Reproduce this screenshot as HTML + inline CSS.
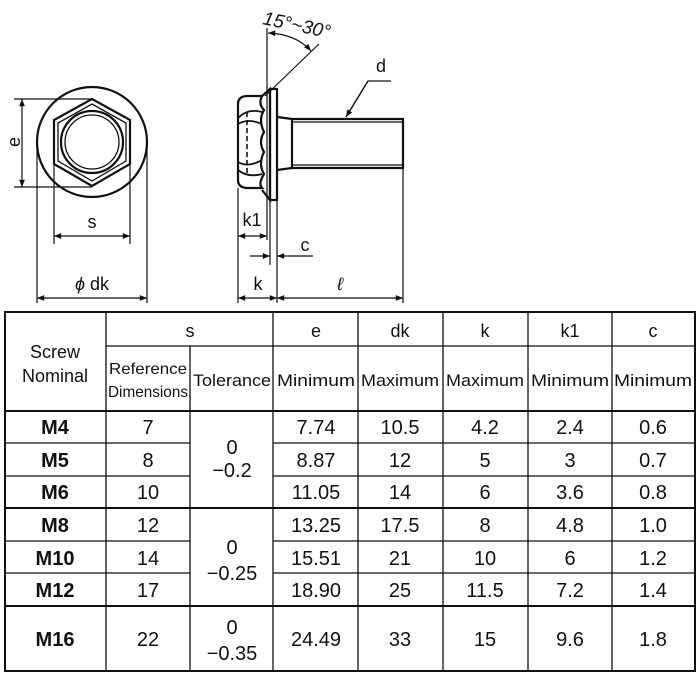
<!DOCTYPE html>
<html><head><meta charset="utf-8"><style>
html,body{margin:0;padding:0;background:#fff;}
svg{display:block;}
text{font-family:"Liberation Sans",sans-serif;fill:#111;}
</style></head><body>
<svg width="700" height="676" viewBox="0 0 700 676" xmlns="http://www.w3.org/2000/svg">
<defs>
<marker id="a" viewBox="0 0 10 10" refX="10" refY="5" markerWidth="8" markerHeight="6" orient="auto-start-reverse"><path d="M0,1 L10,5 L0,9 z" fill="#111"/></marker>
</defs>
<g stroke="#111" fill="none" stroke-width="1.2">
<circle cx="92" cy="142" r="55" stroke-width="2.2"/>
<polygon points="92,99 130,120 130,164 92,186 54,164 54,120" stroke-width="2.2"/>
<polygon points="92,104 126,123 126,161 92,181 58,161 58,123" stroke-width="1.3"/>
<circle cx="92" cy="142" r="31" stroke-width="2.2"/>
<circle cx="92" cy="142" r="27" stroke-width="1.3"/>
<line x1="14" y1="99" x2="92" y2="99"/>
<line x1="14" y1="187" x2="92" y2="187"/>
<line x1="22" y1="99" x2="22" y2="187" marker-start="url(#a)" marker-end="url(#a)"/>
<line x1="54" y1="164" x2="54" y2="244"/>
<line x1="130" y1="164" x2="130" y2="244"/>
<line x1="54" y1="236" x2="130" y2="236" marker-start="url(#a)" marker-end="url(#a)"/>
<line x1="37" y1="142" x2="37" y2="303"/>
<line x1="147" y1="142" x2="147" y2="303"/>
<line x1="37" y1="298" x2="147" y2="298" marker-start="url(#a)" marker-end="url(#a)"/>

<path d="M238,104 Q238,96 248,96 L262,96 Q258,104 264,110 Q258,120 264,132 Q258,142 264,152 Q258,164 264,174 Q258,184 262,188 L248,188 Q238,188 238,180 Z" stroke-width="2.2"/>
<path d="M238,118 Q248,108 262,112 M238,170 Q248,178 262,174 M238,124 Q248,118 262,124 M238,162 Q248,168 262,160" stroke-width="1.8"/>
<line x1="247" y1="112" x2="247" y2="175" stroke-dasharray="5,3" stroke-width="1.6"/>
<path d="M262,96 L270,89 L270,200 L262,190" stroke-width="2.2"/>
<rect x="270" y="89" width="7" height="111" stroke-width="2.2"/>
<path d="M277,117 L292,119 L403,119 L403,168 L292,168 L277,170" stroke-width="2.2"/>
<line x1="292" y1="119" x2="292" y2="168" stroke-width="2.2"/>
<line x1="292" y1="122" x2="403" y2="122"/>
<line x1="292" y1="165" x2="403" y2="165"/>
<line x1="267" y1="28" x2="267" y2="240"/>
<line x1="265" y1="96" x2="319" y2="44"/>
<path d="M268,33 Q296,34 311,51" marker-start="url(#a)" marker-end="url(#a)"/>
<polyline points="391,81 368,81 346,117"/>
<line x1="368" y1="81" x2="346" y2="117" marker-end="url(#a)"/>
<line x1="238" y1="188" x2="238" y2="303"/>
<line x1="270" y1="200" x2="270" y2="265"/>
<line x1="277" y1="200" x2="277" y2="303"/>
<line x1="403" y1="168" x2="403" y2="303"/>
<line x1="238" y1="236" x2="267" y2="236" marker-start="url(#a)" marker-end="url(#a)"/>
<line x1="250" y1="256" x2="270" y2="256" marker-end="url(#a)"/>
<line x1="313" y1="256" x2="277" y2="256" marker-end="url(#a)"/>
<line x1="238" y1="298" x2="277" y2="298" marker-start="url(#a)" marker-end="url(#a)"/>
<line x1="277" y1="298" x2="403" y2="298" marker-start="url(#a)" marker-end="url(#a)"/>
</g>
<g font-size="18">
<text x="15" y="142" transform="rotate(-90 15 142)" text-anchor="middle" dominant-baseline="middle">e</text>
<text x="92" y="228" text-anchor="middle">s</text>
<text x="92" y="290" text-anchor="middle"><tspan font-style="italic">ϕ</tspan> dk</text>
<text x="252" y="226" text-anchor="middle">k1</text>
<text x="305" y="251" text-anchor="middle">c</text>
<text x="258" y="290" text-anchor="middle">k</text>
<text x="340" y="290" text-anchor="middle" font-style="italic">ℓ</text>
<text x="381" y="72" text-anchor="middle">d</text>
<text x="262" y="24" font-size="19" font-style="italic" transform="rotate(12 262 24)">15°~30°</text>
</g>

<g stroke="#111" stroke-width="1.3" fill="none">
<rect x="5" y="312" width="690" height="359" stroke-width="2"/>
<line x1="106" y1="346" x2="695" y2="346"/>
<line x1="5" y1="411" x2="695" y2="411" stroke-width="2"/>
<line x1="5" y1="443" x2="190" y2="443"/><line x1="273" y1="443" x2="695" y2="443"/>
<line x1="5" y1="476" x2="190" y2="476"/><line x1="273" y1="476" x2="695" y2="476"/>
<line x1="5" y1="508" x2="695" y2="508" stroke-width="2"/>
<line x1="5" y1="541" x2="190" y2="541"/><line x1="273" y1="541" x2="695" y2="541"/>
<line x1="5" y1="573" x2="190" y2="573"/><line x1="273" y1="573" x2="695" y2="573"/>
<line x1="5" y1="606" x2="695" y2="606" stroke-width="2"/>
<line x1="106" y1="312" x2="106" y2="671"/>
<line x1="190" y1="346" x2="190" y2="671"/>
<line x1="273" y1="312" x2="273" y2="671"/>
<line x1="358" y1="312" x2="358" y2="671"/>
<line x1="443" y1="312" x2="443" y2="671"/>
<line x1="528" y1="312" x2="528" y2="671"/>
<line x1="612" y1="312" x2="612" y2="671"/>
</g>
<g font-size="18" text-anchor="middle">
<text x="55" y="358">Screw</text>
<text x="55" y="382">Nominal</text>
<text x="190" y="337">s</text>
<text x="316" y="337">e</text>
<text x="400" y="337">dk</text>
<text x="485" y="337">k</text>
<text x="570" y="337">k1</text>
<text x="653" y="337">c</text>
<text x="148" y="374" font-size="16" textLength="78" lengthAdjust="spacingAndGlyphs">Reference</text>
<text x="148" y="397" font-size="16" textLength="80" lengthAdjust="spacingAndGlyphs">Dimensions</text>
<text x="232" y="386" font-size="17" textLength="78" lengthAdjust="spacingAndGlyphs">Tolerance</text>
<text x="316" y="386" font-size="17" textLength="78" lengthAdjust="spacingAndGlyphs">Minimum</text>
<text x="400" y="386" font-size="17" textLength="78" lengthAdjust="spacingAndGlyphs">Maximum</text>
<text x="485" y="386" font-size="17" textLength="78" lengthAdjust="spacingAndGlyphs">Maximum</text>
<text x="570" y="386" font-size="17" textLength="78" lengthAdjust="spacingAndGlyphs">Minimum</text>
<text x="653" y="386" font-size="17" textLength="78" lengthAdjust="spacingAndGlyphs">Minimum</text>
</g>
<g font-size="20" text-anchor="middle">
<g font-weight="bold">
<text x="55" y="434">M4</text><text x="55" y="467">M5</text><text x="55" y="499">M6</text>
<text x="55" y="532">M8</text><text x="55" y="565">M10</text><text x="55" y="597">M12</text>
<text x="55" y="646">M16</text>
</g>
<text x="148" y="434">7</text><text x="148" y="467">8</text><text x="148" y="499">10</text>
<text x="148" y="532">12</text><text x="148" y="565">14</text><text x="148" y="597">17</text><text x="148" y="646">22</text>
<text x="232" y="454">0</text><text x="232" y="477">−0.2</text>
<text x="232" y="554">0</text><text x="232" y="580">−0.25</text>
<text x="232" y="634">0</text><text x="232" y="660">−0.35</text>
<text x="316" y="434">7.74</text><text x="316" y="467">8.87</text><text x="316" y="499">11.05</text>
<text x="316" y="532">13.25</text><text x="316" y="565">15.51</text><text x="316" y="597">18.90</text><text x="316" y="646">24.49</text>
<text x="400" y="434">10.5</text><text x="400" y="467">12</text><text x="400" y="499">14</text>
<text x="400" y="532">17.5</text><text x="400" y="565">21</text><text x="400" y="597">25</text><text x="400" y="646">33</text>
<text x="485" y="434">4.2</text><text x="485" y="467">5</text><text x="485" y="499">6</text>
<text x="485" y="532">8</text><text x="485" y="565">10</text><text x="485" y="597">11.5</text><text x="485" y="646">15</text>
<text x="570" y="434">2.4</text><text x="570" y="467">3</text><text x="570" y="499">3.6</text>
<text x="570" y="532">4.8</text><text x="570" y="565">6</text><text x="570" y="597">7.2</text><text x="570" y="646">9.6</text>
<text x="653" y="434">0.6</text><text x="653" y="467">0.7</text><text x="653" y="499">0.8</text>
<text x="653" y="532">1.0</text><text x="653" y="565">1.2</text><text x="653" y="597">1.4</text><text x="653" y="646">1.8</text>
</g>
</svg>
</body></html>
